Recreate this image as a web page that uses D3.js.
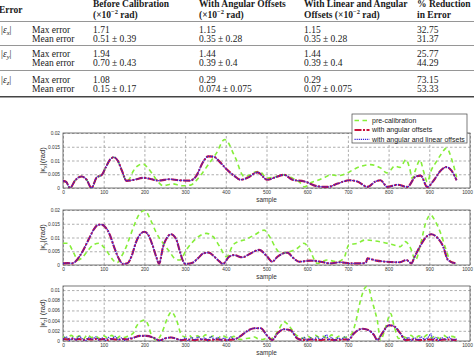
<!DOCTYPE html>
<html><head><meta charset="utf-8">
<script src="https://cdn.jsdelivr.net/npm/d3@7"></script>
<style>body{margin:0;background:#fff}svg{display:block}</style>
</head><body>
<svg id="c" width="474" height="357"></svg>
<script>
// ---------------- table data ----------------
const tableHeaders = [["Before Calibration","(×10^-2 rad)"],["With Angular Offsets","(×10^-2 rad)"],["With Linear and Angular","Offsets (×10^-2 rad)"],["% Reduction","in Error"]];
const errorAxes = ["x","y","z"];
const metricLabels = ["Max error","Mean error"];
const beforeCal = [["1.71","0.51 ± 0.39"],["1.94","0.70 ± 0.43"],["1.08","0.15 ± 0.17"]];
const withAngular = [["1.15","0.35 ± 0.28"],["1.44","0.39 ± 0.4"],["0.29","0.074 ± 0.075"]];
const withLinear = [["1.15","0.35 ± 0.28"],["1.44","0.39 ± 0.4"],["0.29","0.07 ± 0.075"]];
const reduction = [["32.75","31.37"],["25.77","44.29"],["73.15","53.33"]];

// ---------------- chart data ----------------
const sampleTicks = [0,100,200,300,400,500,600,700,800,900,1000];
const sampleLabels = ["0","100","200","300","400","500","600","700","800","900","1000"];
const yTicksXY = [0,0.005,0.01,0.015,0.02];
const yLabelsXY = ["0","0.005","0.01","0.015","0.02"];
const yTicksZ = [0,0.002,0.004,0.006,0.008,0.01];
const yLabelsZ = ["0","0.002","0.004","0.006","0.008","0.01"];
const seriesNames = ["pre-calibration","with angular offsets","with angular and linear offsets"];

const xAngular = [[0,0.0026],[8,0.0022],[17,0],[30,0.0028],[46,0.0042],[58,0.003],[70,0],[83,0.0039],[95,0.0047],[105,0.0075],[115,0.0102],[125,0.0112],[135,0.0098],[145,0.0062],[156,0.0026],[175,0.003],[197,0.0037],[215,0.0033],[235,0.0027],[262,0.0032],[285,0.0028],[312,0.0027],[328,0.0045],[343,0.0092],[357,0.0115],[370,0.0114],[385,0.0095],[402,0.0068],[420,0.0045],[436,0.003],[453,0.0037],[478,0.0057],[502,0.003],[520,0.0038],[543,0.0048],[564,0.003],[593,0.0024],[626,0.0006],[650,0.0004],[675,0.0016],[703,0.0028],[723,0.0024],[748,0.0004],[768,0.0024],[780,0.0028],[797,0.0004],[822,0.0012],[846,0.0004],[867,0.0042],[879,0.0045],[895,0.0004],[912,0.003],[926,0.006],[942,0.0076],[955,0.0062],[967,0.0028]];
const xLinear = xAngular; // identical in the picture (and in the table)
const xPre = [[0,0.0026],[8,0.0022],[17,0],[30,0.0028],[46,0.0042],[58,0.003],[70,0],[83,0.0039],[95,0.0047],[105,0.0075],[115,0.0102],[125,0.0112],[135,0.0098],[145,0.0062],[156,0.0026],[164,0.0035],[172,0.006],[185,0.0082],[197,0.0087],[210,0.007],[221,0.0048],[235,0.002],[246,0.0008],[258,0.0012],[270,0.0015],[283,0.0011],[295,0.0008],[306,0.0009],[316,0.0012],[326,0.0025],[336,0.0042],[357,0.0085],[377,0.0127],[397,0.0176],[408,0.016],[418,0.0127],[428,0.0095],[436,0.006],[445,0.0042],[458,0.0046],[470,0.0057],[482,0.006],[502,0.0036],[520,0.004],[543,0.0048],[565,0.0035],[584,0.0018],[593,0.0004],[610,0.002],[630,0.003],[645,0.004],[658,0.0048],[675,0.0045],[699,0.0055],[715,0.0068],[732,0.0079],[756,0.0085],[780,0.0073],[796,0.0055],[805,0.0065],[815,0.008],[828,0.0075],[843,0.0103],[852,0.007],[858,0.0035],[866,0.0065],[877,0.0102],[886,0.006],[895,0.0022],[905,0.0065],[917,0.0095],[930,0.0125],[942,0.0145],[957,0.0095],[967,0.004]];

const yAngular = [[0,0.0006],[12,0.0007],[22,0.0006],[30,0.0012],[40,0.003],[49,0.0052],[58,0.0078],[67,0.0105],[76,0.013],[86,0.0146],[95,0.0147],[105,0.0136],[115,0.011],[124,0.0072],[132,0.004],[139,0.0018],[147,0.0004],[158,0.0006],[168,0.003],[180,0.0085],[190,0.0112],[200,0.0121],[210,0.0108],[220,0.0072],[229,0.003],[236,0.0005],[246,0.0067],[255,0.0098],[265,0.0112],[278,0.0094],[287,0.005],[294,0.0018],[300,0.0004],[318,0.0008],[332,0.0025],[346,0.0043],[358,0.0045],[372,0.003],[385,0.0012],[393,0.0004],[408,0.003],[420,0.0036],[440,0.0028],[461,0.0042],[482,0.0055],[502,0.003],[514,0.0012],[527,0.003],[551,0.0045],[567,0.0024],[580,0.0012],[608,0.0016],[633,0.0012],[657,0.0006],[681,0.001],[705,0.0006],[729,0.0006],[744,0.0008],[748,0.0024],[770,0.0016],[795,0.0012],[827,0.001],[844,0.0018],[856,0.0006],[864,0.003],[877,0.0067],[893,0.0103],[905,0.0112],[917,0.0103],[934,0.0067],[946,0.0018],[964,0.0006]];
const yLinear = yAngular;
const yPre = [[0,0.0079],[12,0.0079],[25,0.0048],[37,0.0018],[45,0.0024],[59,0.0048],[74,0.0073],[88,0.0079],[100,0.0065],[110,0.0045],[123,0.0018],[133,0.0008],[143,0.003],[155,0.0065],[165,0.0105],[175,0.0145],[189,0.0188],[201,0.0198],[217,0.0158],[230,0.0115],[246,0.0079],[262,0.0048],[274,0.0024],[287,0.0018],[303,0.0055],[328,0.0097],[352,0.0115],[369,0.0103],[385,0.0067],[402,0.003],[418,0.0073],[430,0.0085],[445,0.0091],[470,0.0109],[494,0.0127],[510,0.0097],[523,0.0061],[535,0.0042],[555,0.0048],[576,0.0061],[592,0.0079],[604,0.0061],[625,0.0006],[649,0.0018],[673,0.0012],[690,0.0024],[702,0.0073],[723,0.0079],[743,0.0091],[764,0.0088],[788,0.0082],[813,0.0073],[829,0.0067],[841,0.0085],[854,0.0061],[866,0.0018],[879,0.0079],[891,0.0152],[903,0.0182],[915,0.0158],[928,0.0115],[940,0.0061],[953,0.0012],[967,0.0004]];

const zAngular = [[0,0.0004],[10,0.0003],[20,0.0005],[30,0.0003],[40,0.0004],[50,0.0002],[60,0.0004],[70,0.0003],[80,0.0004],[90,0.0003],[100,0.0004],[110,0.0002],[120,0.0004],[130,0.0003],[140,0.0003],[150,0.0004],[160,0.0003],[172,0.0006],[189,0.001],[205,0.001],[221,0.0007],[238,0.0001],[250,0.0005],[266,0.0007],[280,0.0004],[292,0.0002],[305,0.0003],[320,0.0002],[340,0.0003],[360,0.0002],[380,0.0003],[400,0.0002],[420,0.0003],[433,0.0008],[445,0.0015],[458,0.0022],[470,0.0025],[486,0.0025],[500,0.0012],[514,0.0002],[527,0.0015],[543,0.0023],[559,0.0021],[576,0.0005],[590,0.0002],[610,0.0003],[630,0.0002],[650,0.0003],[670,0.0002],[690,0.0003],[702,0.0003],[715,0.0015],[735,0.0024],[748,0.0022],[764,0.0012],[772,0.0002],[784,0.0015],[801,0.0031],[813,0.0029],[829,0.0015],[841,0.0002],[860,0.0003],[880,0.0002],[900,0.0003],[920,0.0002],[940,0.0003],[967,0.0002]];
const zLinear = [[0,0.0003],[8,0.0008],[16,0.0001],[24,0.0006],[32,0.0002],[40,0.0009],[48,0.0004],[56,0.0001],[64,0.0007],[72,0.0003],[80,0.0008],[88,0.0002],[96,0.0006],[104,0.0001],[112,0.0007],[120,0.0003],[128,0.0009],[136,0.0002],[144,0.0006],[152,0.0001],[160,0.0005],[172,0.0006],[189,0.001],[205,0.001],[221,0.0007],[238,0.0001],[250,0.0005],[266,0.0007],[280,0.0004],[292,0.0002],[300,0.0006],[308,0.0001],[316,0.0007],[324,0.0002],[332,0.0008],[340,0.0003],[348,0.0006],[356,0.0001],[364,0.0009],[372,0.0003],[380,0.0007],[388,0.0002],[396,0.0006],[404,0.0001],[412,0.0008],[420,0.0003],[433,0.0008],[445,0.0015],[458,0.0022],[470,0.0025],[486,0.0025],[500,0.0012],[514,0.0002],[527,0.0015],[543,0.0023],[559,0.0021],[576,0.0005],[584,0.0002],[592,0.0007],[600,0.0001],[608,0.0006],[616,0.0002],[624,0.0008],[632,0.0003],[640,0.0006],[648,0.0012],[652,0.0002],[660,0.0007],[668,0.0001],[676,0.0006],[684,0.0003],[692,0.0008],[700,0.0002],[715,0.0015],[735,0.0024],[748,0.0022],[764,0.0012],[772,0.0002],[784,0.0015],[801,0.0031],[813,0.0029],[829,0.0015],[841,0.0002],[848,0.0007],[856,0.0001],[864,0.0006],[872,0.0002],[880,0.0008],[888,0.0003],[896,0.0006],[904,0.0014],[908,0.0002],[916,0.0007],[924,0.0001],[932,0.0006],[940,0.0003],[948,0.0008],[956,0.0002],[967,0.0004]];
const zPre = [[0,0.0009],[10,0.0005],[20,0.0011],[30,0.0006],[40,0.001],[50,0.0004],[60,0.0012],[70,0.0007],[80,0.0009],[90,0.0005],[100,0.001],[110,0.0006],[120,0.0011],[130,0.0004],[140,0.0009],[150,0.0007],[160,0.001],[172,0.0015],[180,0.0028],[190,0.0038],[201,0.0041],[210,0.003],[217,0.0012],[230,0.0002],[246,0.0022],[255,0.0042],[266,0.0057],[279,0.0041],[291,0.0012],[300,0.0008],[310,0.0011],[320,0.0005],[330,0.001],[340,0.0006],[350,0.0012],[360,0.0007],[370,0.001],[380,0.0005],[390,0.0011],[400,0.0008],[410,0.0006],[420,0.0009],[430,0.0004],[440,0.0003],[450,0.0005],[460,0.0006],[470,0.0008],[480,0.0004],[490,0.0003],[500,0.0005],[510,0.0004],[520,0.001],[530,0.0022],[543,0.0038],[552,0.0033],[560,0.0025],[572,0.0012],[580,0.0009],[590,0.0005],[600,0.001],[610,0.0006],[620,0.0011],[630,0.0007],[640,0.0009],[650,0.0005],[660,0.0012],[670,0.0006],[680,0.001],[690,0.0007],[700,0.0009],[710,0.0015],[720,0.004],[731,0.008],[740,0.0102],[746,0.0107],[752,0.0102],[759,0.008],[766,0.006],[772,0.0041],[780,0.0002],[793,0.0028],[805,0.0054],[813,0.0031],[825,0.0005],[835,0.0009],[845,0.0006],[855,0.0011],[865,0.0005],[875,0.001],[885,0.0007],[895,0.0012],[905,0.0006],[915,0.001],[925,0.0005],[935,0.0011],[945,0.0007],[955,0.0009],[967,0.0006]];

// ---------------- drawing ----------------
const svg = d3.select("#c");
const serif = '"Liberation Serif","DejaVu Serif",serif';
const sans = '"Liberation Sans",Arial,sans-serif';
const FS = 9.5;

const T = svg.append("g").attr("font-family", serif).attr("font-size", FS).attr("fill", "#1a1a1a");
function writeSup(t, str) {
  const parts = str.split("^-2");
  t.append("tspan").text(parts[0]);
  if (parts.length > 1) {
    t.append("tspan").attr("dy", -3.5).attr("font-size", FS * 0.68).text("−2");
    t.append("tspan").attr("dy", 3.5).text(parts[1]);
  }
}
const colX = [93, 199, 304, 417];
T.append("text").attr("x", -1).attr("y", 12.5).attr("font-weight", "bold").text("Error");
tableHeaders.forEach((h, i) => {
  h.forEach((line, j) => {
    const t = T.append("text").attr("x", colX[i]).attr("y", 6.5 + j * 11).attr("font-weight", "bold");
    writeSup(t, line);
  });
});
const ruleY = [21.5, 45.5, 70.5];
ruleY.forEach(yy => T.append("line").attr("x1", 0).attr("x2", 474).attr("y1", yy).attr("y2", yy).attr("stroke", "#8a8a8a").attr("stroke-width", 0.9));
T.append("line").attr("x1", 0).attr("x2", 474).attr("y1", 96.8).attr("y2", 96.8).attr("stroke", "#444").attr("stroke-width", 1.4);
const rowBase = [33, 57, 83];
const cols = [beforeCal, withAngular, withLinear, reduction];
errorAxes.forEach((ax, i) => {
  const b = rowBase[i];
  const t = T.append("text").attr("x", 1).attr("y", b);
  t.append("tspan").text("|");
  t.append("tspan").attr("font-style", "italic").text("ε");
  t.append("tspan").attr("dy", 2).attr("font-size", FS * 0.7).attr("font-style", "italic").text(ax);
  t.append("tspan").attr("dy", -2).text("|");
  metricLabels.forEach((m, j) => T.append("text").attr("x", 32).attr("y", b + j * 9).text(m));
  cols.forEach((c, k) => {
    c[i].forEach((v, j) => T.append("text").attr("x", colX[k]).attr("y", b + j * 9).text(v));
  });
});

// charts
const X0 = 63, X1 = 470, PH = 55;
const x = d3.scaleLinear().domain([sampleTicks[0], sampleTicks[sampleTicks.length - 1]]).range([X0, X1]);
const panels = [
  { top: 133, dom: [0, 0.02], ticks: yTicksXY, labels: yLabelsXY, ax: "x", sep: "", data: [xPre, xAngular, xLinear] },
  { top: 210, dom: [0, 0.02], ticks: yTicksXY, labels: yLabelsXY, ax: "y", sep: "", data: [yPre, yAngular, yLinear] },
  { top: 286, dom: [0, 0.0108], ticks: yTicksZ, labels: yLabelsZ, ax: "z", sep: " ", data: [zPre, zAngular, zLinear] }
];
const styles = [
  { stroke: "#86ee3a", width: 1.6, dash: "4.5,3.5" },
  { stroke: "#c8103a", width: 2.1, dash: "7,1.5,2,1.5" },
  { stroke: "#3322dd", width: 1.3, dash: "1.2,0.9" }
];
panels.forEach((p, k) => {
  const y = d3.scaleLinear().domain(p.dom).range([p.top + PH, p.top]);
  const g = svg.append("g");
  const gx = g.append("g").attr("transform", `translate(0,${p.top + PH})`)
    .call(d3.axisBottom(x).tickValues(sampleTicks).tickFormat((d, i) => sampleLabels[i]).tickSize(-PH).tickPadding(3));
  const gy = g.append("g").attr("transform", `translate(${X0},0)`)
    .call(d3.axisLeft(y).tickValues(p.ticks).tickFormat((d, i) => p.labels[i]).tickSize(-(X1 - X0)).tickPadding(3));
  [gx, gy].forEach(a => {
    a.select(".domain").remove();
    a.selectAll(".tick line").attr("stroke", "#8c8c8c").attr("stroke-width", 0.7).attr("stroke-dasharray", "2.5,2");
    a.selectAll(".tick text").attr("font-family", sans).attr("font-size", 4.8).attr("fill", "#333");
  });
  gx.selectAll(".tick text").filter((d, i) => i === sampleTicks.length - 1).attr("dx", -3);
  g.append("rect").attr("x", X0).attr("y", p.top).attr("width", X1 - X0).attr("height", PH)
    .attr("fill", "none").attr("stroke", "#555").attr("stroke-width", 0.8);
  const cid = "clip" + k;
  svg.append("clipPath").attr("id", cid).append("rect").attr("x", X0).attr("y", p.top - 1).attr("width", X1 - X0).attr("height", PH + 1);
  const line = d3.line().x(d => x(d[0])).y(d => y(d[1])).curve(d3.curveMonotoneX);
  p.data.forEach((ser, s) => {
    g.append("path").attr("clip-path", `url(#${cid})`).attr("d", line(ser)).attr("fill", "none")
      .attr("stroke", styles[s].stroke).attr("stroke-width", styles[s].width).attr("stroke-dasharray", styles[s].dash)
      .attr("stroke-linejoin", "round");
  });
  // x label
  g.append("text").attr("x", (X0 + X1) / 2).attr("y", p.top + PH + 14).attr("text-anchor", "middle")
    .attr("font-family", sans).attr("font-size", 6.4).attr("fill", "#333").text("sample");
  // y label
  const cy = p.top + PH / 2;
  const yl = g.append("text").attr("transform", `translate(44.5,${cy}) rotate(-90)`).attr("text-anchor", "middle")
    .attr("font-family", sans).attr("font-size", 7.6).attr("fill", "#333");
  yl.append("tspan").text("|κ");
  yl.append("tspan").attr("dy", 2).attr("font-size", 5.2).text(p.ax);
  yl.append("tspan").attr("dy", -2).text("|" + p.sep + "(rad)");
});

// legend
const L = svg.append("g");
L.append("rect").attr("x", 352).attr("y", 114).attr("width", 115).attr("height", 29).attr("fill", "#fff").attr("stroke", "#444").attr("stroke-width", 0.7);
const legY = [120.5, 130, 139.3];
seriesNames.forEach((n, i) => {
  L.append("line").attr("x1", 354.5).attr("x2", 369.5).attr("y1", legY[i]).attr("y2", legY[i])
    .attr("stroke", styles[i].stroke).attr("stroke-width", styles[i].width).attr("stroke-dasharray", styles[i].dash);
  L.append("text").attr("x", 372).attr("y", legY[i] + 2.4).attr("font-family", sans).attr("font-size", 7).attr("fill", "#222").text(n);
});
</script></body></html>
